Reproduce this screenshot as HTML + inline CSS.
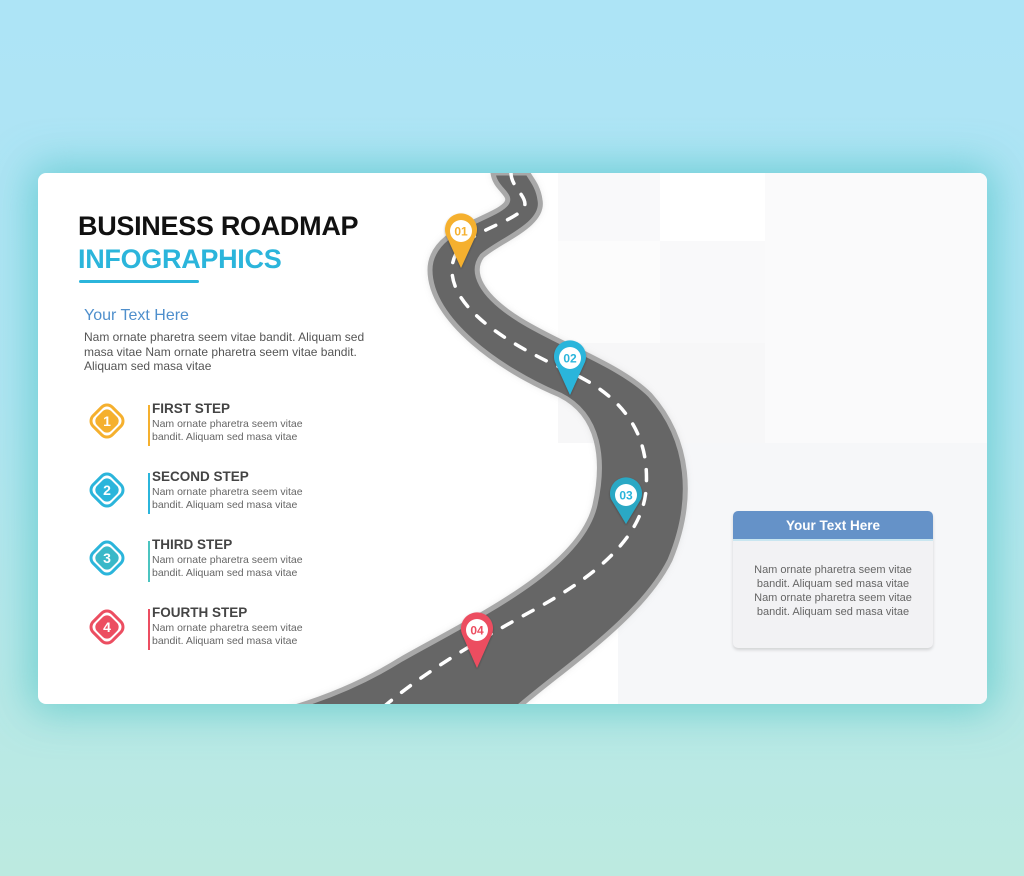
<!DOCTYPE html>
<html><head><meta charset="utf-8"><style>
*{margin:0;padding:0;box-sizing:border-box}
body{width:1024px;height:876px;overflow:hidden;background:linear-gradient(#ade4f6 0%,#b0e5f2 45%,#bceae0 100%);font-family:"Liberation Sans",sans-serif;position:relative}
.card{position:absolute;left:38px;top:173px;width:949px;height:531px;background:#fff;border-radius:8px;box-shadow:0 0 40px 8px rgba(60,190,190,.55);overflow:hidden}
.abs{position:absolute}
.t1{left:40px;top:38px;font-size:27px;font-weight:bold;color:#111;letter-spacing:-0.3px}
.t2{left:40px;top:71px;font-size:27px;font-weight:bold;color:#2bb5db;letter-spacing:-0.3px}
.ul{left:41px;top:107px;width:120px;height:3px;background:#2bb5db;border-radius:2px}
.h3{left:46px;top:134px;font-size:16px;color:#4f8fcc}
.p{left:46px;top:157px;font-size:12px;line-height:14.5px;color:#555;width:310px}
.st{left:110px}
.st .bar{position:absolute;left:0;top:0;width:2px;height:41px}
.st b{position:absolute;left:4px;top:-4px;font-size:13.5px;color:#444;white-space:nowrap}
.st span{position:absolute;left:4px;top:13px;font-size:10.5px;line-height:13px;color:#666;white-space:nowrap}
.ic{position:absolute;width:30px;height:30px;transform:rotate(45deg);border-radius:9px;border:3px solid;box-sizing:border-box}
.ic i{position:absolute;left:2px;top:2px;width:20px;height:20px;border-radius:6px}
.num{position:absolute;width:36px;text-align:center;color:#fff;font-weight:bold;font-size:14px}
.box{left:695px;top:338px;width:200px;height:137px;border-radius:5px;background:#f2f2f4;box-shadow:0 2px 3px rgba(0,0,0,.15)}
.bh{height:30px;background:#6592c8;border-radius:5px 5px 0 0;color:#fff;font-weight:bold;font-size:13.5px;text-align:center;line-height:30px;border-bottom:2px solid #c9e6f0}
.bb{padding-top:22px;font-size:11px;line-height:14px;color:#666;text-align:center}
</style></head><body>
<div class="card">
 <div class="abs" style="left:520px;top:0;width:102px;height:68px;background:#f9f9fa"></div>
 <div class="abs" style="left:622px;top:68px;width:105px;height:102px;background:#f9f9fa"></div>
 <div class="abs" style="left:520px;top:68px;width:102px;height:102px;background:#fcfcfc"></div>
 <div class="abs" style="left:727px;top:68px;width:105px;height:102px;background:#fafafb"></div>
 <div class="abs" style="left:520px;top:170px;width:207px;height:100px;background:#f7f7f8"></div>
 <div class="abs" style="left:580px;top:270px;width:369px;height:261px;background:#f6f7f9"></div>
 <div class="abs" style="left:727px;top:0;width:222px;height:270px;background:#fafafb"></div>

 <div class="abs t1">BUSINESS ROADMAP</div>
 <div class="abs t2">INFOGRAPHICS</div>
 <div class="abs ul"></div>
 <div class="abs h3">Your Text Here</div>
 <div class="abs p">Nam ornate pharetra seem vitae bandit. Aliquam sed masa vitae Nam ornate pharetra seem vitae bandit. Aliquam sed masa vitae</div>

 <div class="abs st" style="top:232px"><div class="bar" style="background:#f5b02e"></div><b>FIRST STEP</b><span>Nam ornate pharetra seem vitae<br>bandit. Aliquam sed masa vitae</span></div>
 <div class="abs st" style="top:300px"><div class="bar" style="background:#2bb5db"></div><b>SECOND STEP</b><span>Nam ornate pharetra seem vitae<br>bandit. Aliquam sed masa vitae</span></div>
 <div class="abs st" style="top:368px"><div class="bar" style="background:#4cc4c0"></div><b>THIRD STEP</b><span>Nam ornate pharetra seem vitae<br>bandit. Aliquam sed masa vitae</span></div>
 <div class="abs st" style="top:436px"><div class="bar" style="background:#ec4e61"></div><b>FOURTH STEP</b><span>Nam ornate pharetra seem vitae<br>bandit. Aliquam sed masa vitae</span></div>

 <div class="ic" style="left:54px;top:233px;border-color:#f5b02e"><i style="background:#f5b02e"></i></div><div class="num" style="left:51px;top:240px">1</div>
 <div class="ic" style="left:54px;top:302px;border-color:#2bb5db"><i style="background:#2bb5db"></i></div><div class="num" style="left:51px;top:309px">2</div>
 <div class="ic" style="left:54px;top:370px;border-color:#2bb5db"><i style="background:#3ab8c8"></i></div><div class="num" style="left:51px;top:377px">3</div>
 <div class="ic" style="left:54px;top:439px;border-color:#ec4e61"><i style="background:#ec4e61"></i></div><div class="num" style="left:51px;top:446px">4</div>

 <div class="abs box"><div class="bh">Your Text Here</div><div class="bb">Nam ornate pharetra seem vitae<br>bandit. Aliquam sed masa vitae<br>Nam ornate pharetra seem vitae<br>bandit. Aliquam sed masa vitae</div></div>
</div>

<svg class="abs" style="left:0;top:0" width="1024" height="876" viewBox="0 0 1024 876">
 <defs>
  <filter id="sh" x="-20%" y="-20%" width="140%" height="140%"><feGaussianBlur stdDeviation="4"/></filter>
  <clipPath id="cp"><rect x="38" y="173" width="949" height="531"/></clipPath>
  <filter id="ps"><feDropShadow dx="0" dy="1" stdDeviation="1" flood-opacity=".3"/></filter>
 </defs>
 <g clip-path="url(#cp)">
  <path d="M493,173 C495,190 515,195 505,205 C490,220 430,230 430,270 C430,320 500,370 560,395 C600,415 605,460 595,505 C580,570 470,620 400,660 C360,685 320,700 285,710 L515,710 C560,670 640,620 670,560 C695,500 690,440 650,395 C620,365 560,345 520,320 C480,295 470,272 482,256 C500,240 545,225 540,200 C538,185 530,178 528,173 Z" fill="#bbb" filter="url(#sh)" opacity=".7"/>
  <path d="M493,173 C495,190 515,195 505,205 C490,220 430,230 430,270 C430,320 500,370 560,395 C600,415 605,460 595,505 C580,570 470,620 400,660 C360,685 320,700 285,710 L515,710 C560,670 640,620 670,560 C695,500 690,440 650,395 C620,365 560,345 520,320 C480,295 470,272 482,256 C500,240 545,225 540,200 C538,185 530,178 528,173 Z" fill="#666" stroke="#a8a8a8" stroke-width="5" stroke-linejoin="round"/>
  <path d="M511,173 C511,190 535,200 520,212 C500,228 452,235 452,270 C452,310 510,345 570,372 C630,400 650,440 646,490 C642,540 590,580 530,612 C470,645 420,675 380,710" fill="none" stroke="#fff" stroke-width="3.5" stroke-dasharray="11 13" stroke-linecap="round"/>
 </g>
 <g filter="url(#ps)" font-family="Liberation Sans, sans-serif" font-weight="bold" font-size="12" text-anchor="middle">
  <path d="M446,235 A16,16 0 1 1 476,235 L461,268 Z" fill="#f5b02e"/><circle cx="461" cy="231" r="11" fill="#fff"/><text x="461" y="235.5" fill="#f5b02e">01</text>
  <path d="M555,362 A16,16 0 1 1 585,362 L570,395 Z" fill="#2bb5db"/><circle cx="570" cy="358" r="11" fill="#fff"/><text x="570" y="362.5" fill="#2bb5db">02</text>
  <path d="M611,499 A16,16 0 1 1 641,499 L626,524 Z" fill="#2ba8c4"/><circle cx="626" cy="495" r="11" fill="#fff"/><text x="626" y="499.5" fill="#2bb5db">03</text>
  <path d="M462,634 A16,16 0 1 1 492,634 L477,668 Z" fill="#ec4e61"/><circle cx="477" cy="630" r="11" fill="#fff"/><text x="477" y="634.5" fill="#ec4e61">04</text>
 </g>
</svg>
</body></html>
